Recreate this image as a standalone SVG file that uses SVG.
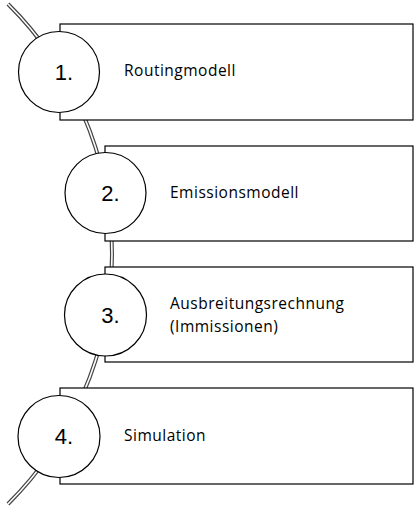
<svg xmlns="http://www.w3.org/2000/svg" width="420" height="512" viewBox="0 0 420 512">
<style>
.box{fill:#fff;stroke:#000;stroke-width:1.2}
.circ{fill:#fff;stroke:#000;stroke-width:1.2}
.num{font-family:"Liberation Sans",Arial,sans-serif;font-size:22px;fill:#000;text-anchor:middle}
.lbl{font-family:"Open Sans","Noto Sans",sans-serif;font-size:15.5px;letter-spacing:0.5px;fill:#000}
.arcOut{fill:none;stroke:#444;stroke-width:4}
.arcIn{fill:none;stroke:#fff;stroke-width:1.6}
</style>
<rect width="420" height="512" fill="#fff"/>
<g id="connectors">
<path class="arcOut" d="M8,4 A352.5,352.5 0 0 1 8,504"/>
<path class="arcIn" d="M8,4 A352.5,352.5 0 0 1 8,504"/>
</g>
<g id="node1">
<rect class="box" x="60" y="24" width="353" height="96"/>
<circle class="circ" cx="59" cy="72" r="40.5"/>
<text class="num" x="64" y="79.5">1.</text>
<text class="lbl" x="124" y="75.5">Routingmodell</text>
</g>
<g id="node2">
<rect class="box" x="105" y="146" width="308" height="95"/>
<circle class="circ" cx="105.5" cy="193" r="40.5"/>
<text class="num" x="110.5" y="200.5">2.</text>
<text class="lbl" x="170" y="198">Emissionsmodell</text>
</g>
<g id="node3">
<rect class="box" x="105" y="267" width="308" height="95"/>
<circle class="circ" cx="105.5" cy="315" r="41"/>
<text class="num" x="110.5" y="322.5">3.</text>
<text class="lbl" x="170" y="308.5">Ausbreitungsrechnung</text>
<text class="lbl" x="170" y="332">(Immissionen)</text>
</g>
<g id="node4">
<rect class="box" x="60" y="388" width="353" height="96"/>
<circle class="circ" cx="59" cy="436.5" r="41"/>
<text class="num" x="64" y="444">4.</text>
<text class="lbl" x="124" y="441">Simulation</text>
</g>
</svg>
